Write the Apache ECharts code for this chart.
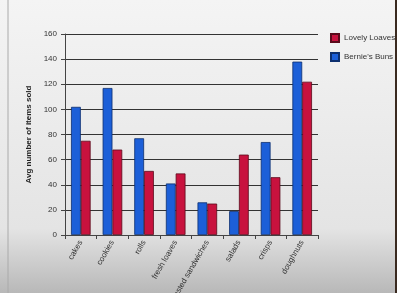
<!DOCTYPE html>
<html><head><meta charset="utf-8">
<script src="https://cdn.jsdelivr.net/npm/echarts@6/dist/echarts.min.js"></script>
<style>html,body{margin:0;padding:0;}#c{width:397px;height:293px;}</style>
</head><body><div id="c"></div>
<script>
const categories = ['cakes','cookies','rolls','fresh loaves','toasted sandwiches','salads','crisps','doughnuts'];
const berniesBuns = [102,117,77,41,26,19,74,138];
const lovelyLoaves = [75,68,51,49,25,64,46,122];
const yTicks = [0,20,40,60,80,100,120,140,160];

const chart = echarts.init(document.getElementById('c'));
chart.setOption({
  animation:false,
  backgroundColor:{type:'linear',x:0,y:0,x2:0,y2:1,colorStops:[{offset:0,color:'#f4f4f4'},{offset:0.78,color:'#e4e4e4'},{offset:1,color:'#b8b8b8'}]},
  graphic:[
    {type:'rect',shape:{x:395,y:0,width:2,height:293},style:{fill:'#3a2a20'}},
    {type:'line',shape:{x1:8,y1:0,x2:8,y2:293},style:{stroke:'#aaa',lineWidth:1}}
  ],
  legend:{
    orient:'vertical',left:325,top:28,itemWidth:8,itemHeight:8,itemGap:9,icon:'rect',itemTextGap:4,
    data:["Lovely Loaves","Bernie's Buns"],
    textStyle:{fontSize:8,color:'#333',fontFamily:'Liberation Sans'}
  },
  grid:{left:65,right:79,top:34,bottom:58,outerBoundsMode:'none',containLabel:false},
  xAxis:{
    type:'category',data:categories,
    axisLine:{lineStyle:{color:'#444'}},
    axisTick:{show:true,lineStyle:{color:'#444'},length:4},
    axisLabel:{rotate:60,fontSize:8,color:'#333',fontFamily:'Liberation Sans',margin:6}
  },
  yAxis:{
    type:'value',min:yTicks[0],max:yTicks[yTicks.length-1],interval:20,
    name:'Avg number of items sold',nameLocation:'middle',nameGap:26,
    nameTextStyle:{fontSize:8,fontWeight:'bold',color:'#222',fontFamily:'Liberation Sans'},
    axisLine:{show:true,lineStyle:{color:'#444'}},
    axisTick:{show:true,lineStyle:{color:'#444'},length:4},
    axisLabel:{fontSize:8,color:'#333',fontFamily:'Liberation Sans'},
    splitLine:{lineStyle:{color:'#333',width:1}}
  },
  series:[
    {name:"Bernie's Buns",type:'bar',data:berniesBuns,barGap:'0%',barCategoryGap:'38%',
     itemStyle:{color:'#1c5fd8',borderColor:'#0d2f6e',borderWidth:0.8}},
    {name:"Lovely Loaves",type:'bar',data:lovelyLoaves,barGap:'0%',barCategoryGap:'38%',
     itemStyle:{color:'#c8123e',borderColor:'#5a0a1a',borderWidth:0.8}}
  ]
});
</script></body></html>
